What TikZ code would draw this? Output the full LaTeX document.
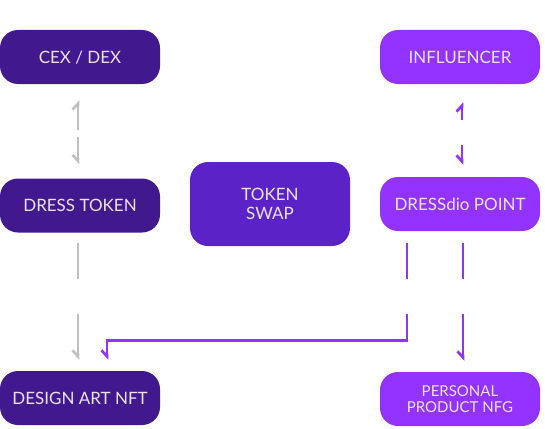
\documentclass[tikz,border=0pt]{standalone}
\usepackage{fontspec}
\setmainfont{Lato}
\usetikzlibrary{arrows.meta}
\definecolor{darkp}{HTML}{42188F}
\definecolor{midp}{HTML}{5B22C8}
\definecolor{brightp}{HTML}{9333FF}
\definecolor{txtc}{HTML}{ECE3FF}
\definecolor{greyline}{HTML}{C0C0C0}
\tikzset{
  box/.style={rounded corners=18pt, minimum width=160pt, minimum height=54pt,
    inner sep=0pt, text=txtc, align=center, font=\fontsize{17}{19}\selectfont},
  oneline/.style={text height=12.5pt, text depth=0pt},
  darkbox/.style={box, oneline, fill=darkp},
  midbox/.style={box, fill=midp},
  brightbox/.style={box, fill=brightp},
  conn/.style={line width=2.7pt},
  greyconn/.style={conn, draw=greyline},
  purpconn/.style={conn, draw=brightp},
  tipdown/.style={-{Straight Barb[right, length=6pt, width=11pt]}},
  tipboth/.style={{Straight Barb[left, length=6pt, width=11pt]}-{Straight Barb[right, length=6pt, width=11pt]}},
}
\begin{document}
\begin{tikzpicture}[x=1pt,y=-1pt]
\useasboundingbox (0,0) rectangle (545,428);
\node[darkbox] (cex) at (80,57) {CEX / DEX};
\node[brightbox, oneline] (infl) at (460,57) {INFLUENCER};
\node[midbox, minimum height=84pt] (swap) at (270,204) {TOKEN\\SWAP};
\node[darkbox] (dtok) at (80,205.5) {DRESS TOKEN};
\node[brightbox, oneline] (dpoint) at (460,204) {DRESSdio POINT};
\node[darkbox] (nft) at (80,398) {DESIGN ART NFT};
\node[brightbox, font=\fontsize{15}{15.5}\selectfont] (pnfg) at (460,399) {PERSONAL\\PRODUCT NFG};

% left upper: CEX <-> DRESS TOKEN
\draw[greyconn, tipboth, dash pattern=on 25pt off 7pt on 60pt]
  ([xshift=-2pt,yshift=-16pt]cex.south) -- ([xshift=-2pt,yshift=14pt]dtok.north);
% right upper: INFLUENCER <-> DRESSdio POINT
\draw[purpconn, tipboth, dash pattern=on 13pt off 25pt on 60pt]
  ([xshift=2pt,yshift=-18pt]infl.south) -- ([xshift=2pt,yshift=12pt]dpoint.north);
% left lower: DRESS TOKEN -> DESIGN ART NFT
\draw[greyconn, tipdown, dash pattern=on 36pt off 35pt on 80pt]
  ([xshift=-2pt,yshift=-10pt]dtok.south) -- ([xshift=-2pt,yshift=11pt]nft.north);
% purple L: DRESSdio POINT -> DESIGN ART NFT
\draw[purpconn, tipdown, dash pattern=on 36pt off 35pt on 500pt]
  ([xshift=-53pt,yshift=-12pt]dpoint.south) -- ++(0,97) -| ([xshift=27pt,yshift=11pt]nft.north);
% right lower: DRESSdio POINT -> PERSONAL PRODUCT NFG
\draw[purpconn, tipdown, dash pattern=on 36pt off 35pt on 80pt]
  ([xshift=3pt,yshift=-12pt]dpoint.south) -- ([xshift=3pt,yshift=11pt]pnfg.north);
\end{tikzpicture}
\end{document}
